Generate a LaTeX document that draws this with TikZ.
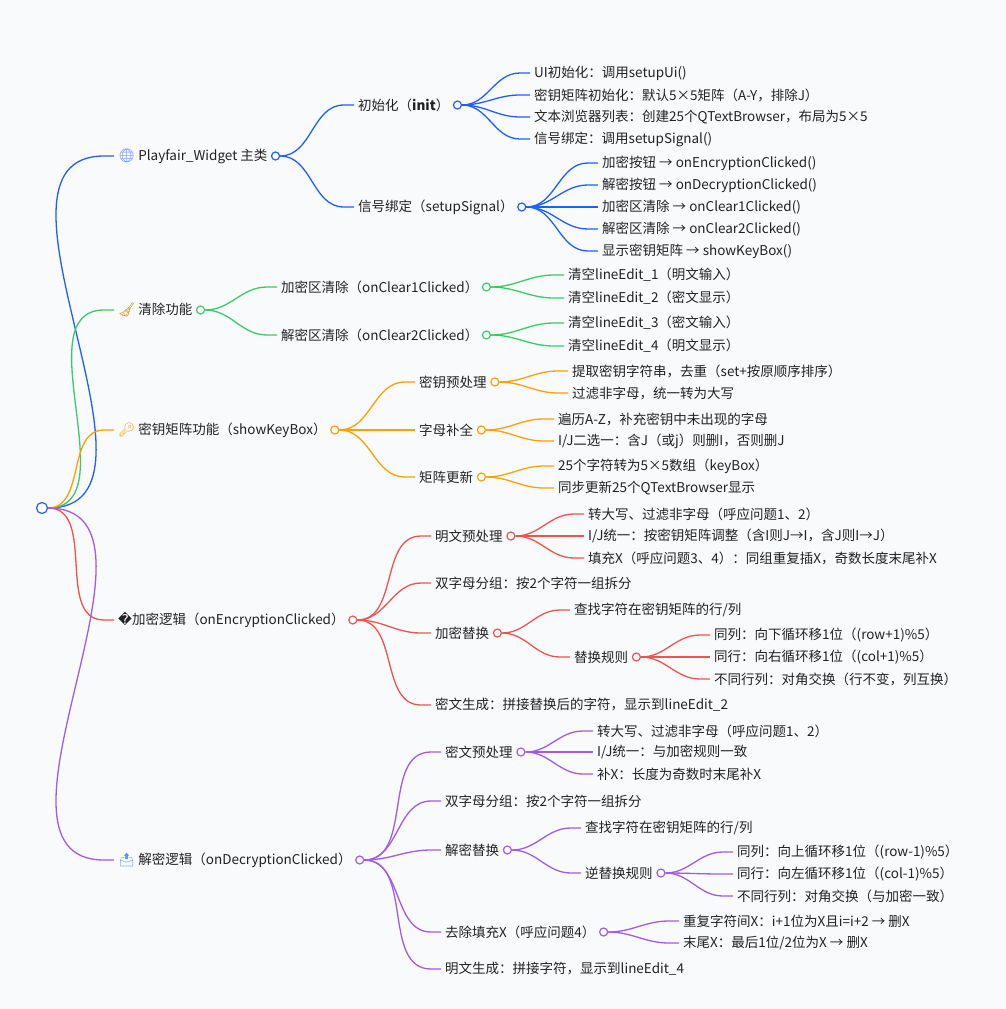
\documentclass[tikz,border=0pt]{standalone}
\usepackage{fontspec}
\setmainfont{Noto Sans CJK SC}
\newfontfamily\emo{Noto Emoji}
\newfontfamily\dv{DejaVu Sans}
\definecolor{cb}{HTML}{1F5EFF}
\definecolor{cg}{HTML}{3CC96A}
\definecolor{co}{HTML}{FFA000}
\definecolor{cr}{HTML}{F05252}
\definecolor{cp}{HTML}{A25BE8}
\definecolor{bg}{HTML}{F9FAFC}
\definecolor{tx}{HTML}{222222}
\tikzset{
 txt/.style={anchor=west,inner sep=0pt,text=tx,font=\fontsize{13.5}{16}\selectfont},
 conn/.style={line width=1.3pt},
 dot/.style={circle,draw=#1,fill=white,line width=1.2pt,minimum size=8pt,inner sep=0pt},
}
\newcommand\kid[6]{%
 \node[txt] (#3) at (#4,#5) {#6};
 \draw[conn,#1] (#2.east) to[out=0,in=180] ([xshift=-14]#3.west) -- ([xshift=-4]#3.west);}
\newcommand\kidc[6]{%
 \kid{#1}{#2}{#3}{#4}{#5}{#6}
 \node[dot=#1] (#3c) at ([xshift=8]#3.east) {};}
\begin{document}
\begin{tikzpicture}[x=1pt,y=-1pt]
\fill[bg] (0,0) rectangle (1006,1009);
\useasboundingbox (0,0) rectangle (1006,1009);
\node[dot=cb,minimum size=11pt] (root) at (42,508) {};
% blue
\kidc{cb}{root}{a}{118}{156}{\textcolor{cb!70}{\emo 🌐} Playfair\_Widget 主类}
\kidc{cb}{ac}{a1}{358}{105}{初始化（\textbf{init}）}
\kid{cb}{a1c}{a11}{534}{73}{UI初始化：调用setupUi()}
\kid{cb}{a1c}{a12}{534}{95}{密钥矩阵初始化：默认5×5矩阵（A-Y，排除J）}
\kid{cb}{a1c}{a13}{534}{117}{文本浏览器列表：创建25个QTextBrowser，布局为5×5}
\kid{cb}{a1c}{a14}{534}{139}{信号绑定：调用setupSignal()}
\kidc{cb}{ac}{a2}{358}{207}{信号绑定（setupSignal）}
\kid{cb}{a2c}{a21}{602}{163}{加密按钮 → onEncryptionClicked()}
\kid{cb}{a2c}{a22}{602}{185}{解密按钮 → onDecryptionClicked()}
\kid{cb}{a2c}{a23}{602}{207}{加密区清除 → onClear1Clicked()}
\kid{cb}{a2c}{a24}{602}{229}{解密区清除 → onClear2Clicked()}
\kid{cb}{a2c}{a25}{602}{251}{显示密钥矩阵 → showKeyBox()}
% green
\kidc{cg}{root}{b}{118}{310}{\textcolor{co!80!black}{\emo 🧹} 清除功能}
\kidc{cg}{bc}{b1}{281}{287}{加密区清除（onClear1Clicked）}
\kid{cg}{b1c}{b11}{568}{275}{清空lineEdit\_1（明文输入）}
\kid{cg}{b1c}{b12}{568}{298}{清空lineEdit\_2（密文显示）}
\kidc{cg}{bc}{b2}{281}{335}{解密区清除（onClear2Clicked）}
\kid{cg}{b2c}{b21}{568}{323}{清空lineEdit\_3（密文输入）}
\kid{cg}{b2c}{b22}{568}{346}{清空lineEdit\_4（明文显示）}
% orange
\kidc{co}{root}{c}{118}{430}{\textcolor{co}{\emo 🔑} 密钥矩阵功能（showKeyBox）}
\kidc{co}{cc}{c1}{419}{382}{密钥预处理}
\kid{co}{c1c}{c11}{572}{371}{提取密钥字符串，去重（set+按原顺序排序）}
\kid{co}{c1c}{c12}{572}{393}{过滤非字母，统一转为大写}
\kidc{co}{cc}{c2}{419}{430}{字母补全}
\kid{co}{c2c}{c21}{558}{419}{遍历A-Z，补充密钥中未出现的字母}
\kid{co}{c2c}{c22}{558}{441}{I/J二选一：含J（或j）则删I，否则删J}
\kidc{co}{cc}{c3}{419}{477}{矩阵更新}
\kid{co}{c3c}{c31}{558}{466}{25个字符转为5×5数组（keyBox）}
\kid{co}{c3c}{c32}{558}{488}{同步更新25个QTextBrowser显示}
% red
\kidc{cr}{root}{d}{118}{620}{{\dv �}加密逻辑（onEncryptionClicked）}
\kidc{cr}{dc}{d1}{435}{536}{明文预处理}
\kid{cr}{d1c}{d11}{588}{514}{转大写、过滤非字母（呼应问题1、2）}
\kid{cr}{d1c}{d12}{588}{536}{I/J统一：按密钥矩阵调整（含I则J→I，含J则I→J）}
\kid{cr}{d1c}{d13}{588}{558}{填充X（呼应问题3、4）：同组重复插X，奇数长度末尾补X}
\kid{cr}{dc}{d2}{435}{583}{双字母分组：按2个字符一组拆分}
\kidc{cr}{dc}{d3}{435}{633}{加密替换}
\kid{cr}{d3c}{d31}{574}{610}{查找字符在密钥矩阵的行/列}
\kidc{cr}{d3c}{d32}{574}{657}{替换规则}
\kid{cr}{d32c}{d321}{714}{635}{同列：向下循环移1位（(row+1)\%5）}
\kid{cr}{d32c}{d322}{714}{657}{同行：向右循环移1位（(col+1)\%5）}
\kid{cr}{d32c}{d323}{714}{679}{不同行列：对角交换（行不变，列互换）}
\kid{cr}{dc}{d4}{435}{705}{密文生成：拼接替换后的字符，显示到lineEdit\_2}
% purple
\kidc{cp}{root}{e}{118}{860}{\textcolor{cb!70}{\emo 📤} 解密逻辑（onDecryptionClicked）}
\kidc{cp}{ec}{e1}{445}{752}{密文预处理}
\kid{cp}{e1c}{e11}{597}{731}{转大写、过滤非字母（呼应问题1、2）}
\kid{cp}{e1c}{e12}{597}{752}{I/J统一：与加密规则一致}
\kid{cp}{e1c}{e13}{597}{774}{补X：长度为奇数时末尾补X}
\kid{cp}{ec}{e2}{445}{801}{双字母分组：按2个字符一组拆分}
\kidc{cp}{ec}{e3}{445}{850}{解密替换}
\kid{cp}{e3c}{e31}{585}{828}{查找字符在密钥矩阵的行/列}
\kidc{cp}{e3c}{e32}{585}{873}{逆替换规则}
\kid{cp}{e32c}{e321}{737}{852}{同列：向上循环移1位（(row-1)\%5）}
\kid{cp}{e32c}{e322}{737}{874}{同行：向左循环移1位（(col-1)\%5）}
\kid{cp}{e32c}{e323}{737}{896}{不同行列：对角交换（与加密一致）}
\kidc{cp}{ec}{e4}{445}{932}{去除填充X（呼应问题4）}
\kid{cp}{e4c}{e41}{683}{921}{重复字符间X：i+1位为X且i=i+2 → 删X}
\kid{cp}{e4c}{e42}{683}{943}{末尾X：最后1位/2位为X → 删X}
\kid{cp}{ec}{e5}{445}{969}{明文生成：拼接字符，显示到lineEdit\_4}
\end{tikzpicture}
\end{document}
